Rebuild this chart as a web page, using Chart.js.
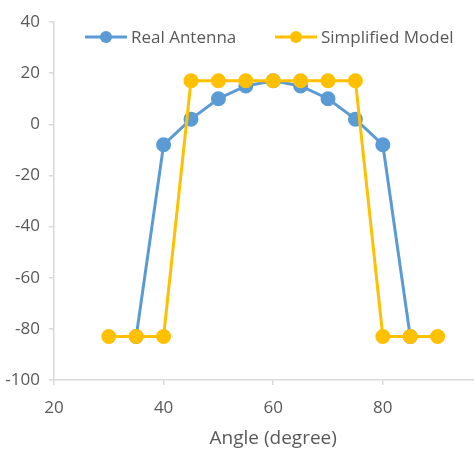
<!DOCTYPE html>
<html>
<head>
<meta charset="utf-8">
<script src="https://cdn.jsdelivr.net/npm/chart.js@4"></script>
<style>
  html, body { margin: 0; padding: 0; background: #fff; overflow: hidden; }
  #wrap { width: 520px; height: 474px; }
</style>
</head>
<body>
<div id="wrap"><canvas id="chart"></canvas></div>
<script>
// Data
const realAngles = [35, 40, 45, 50, 55, 60, 65, 70, 75, 80, 85];
const realValues = [-83, -8, 2, 10, 15, 17, 15, 10, 2, -8, -83];
const modelAngles = [30, 35, 40, 45, 50, 55, 60, 65, 70, 75, 80, 85, 90];
const modelValues = [-83, -83, -83, 17, 17, 17, 17, 17, 17, 17, -83, -83, -83];
const seriesNames = ['Real Antenna', 'Simplified Model'];
const xTitle = 'Angle (degree)';

const BLUE = '#5B9BD5';
const GOLD = '#FFC000';
const AXIS = '#d9d9d9';
const TEXT = '#595959';
const FONT = "'Open Sans', 'Liberation Sans', sans-serif";

const toPoints = (xs, ys) => xs.map((x, i) => ({ x, y: ys[i] }));

// Excel-style legend drawn inside the plot area
const insideLegend = {
  id: 'insideLegend',
  afterDraw(chart) {
    const ctx = chart.ctx;
    const spots = [85, 275];
    const y = 37;
    ctx.save();
    chart.data.datasets.forEach((ds, i) => {
      const x = spots[i];
      ctx.strokeStyle = ds.borderColor;
      ctx.lineWidth = 3;
      ctx.beginPath();
      ctx.moveTo(x, y);
      ctx.lineTo(x + 42, y);
      ctx.stroke();
      ctx.fillStyle = ds.borderColor;
      ctx.beginPath();
      ctx.arc(x + 21, y, 6, 0, Math.PI * 2);
      ctx.fill();
      ctx.fillStyle = TEXT;
      ctx.font = '17px ' + FONT;
      ctx.textBaseline = 'middle';
      ctx.fillText(ds.label, x + 46, y + 1);
    });
    ctx.restore();
  }
};

new Chart(document.getElementById('chart'), {
  type: 'scatter',
  data: {
    datasets: [
      {
        label: seriesNames[0],
        data: toPoints(realAngles, realValues),
        showLine: true,
        borderColor: BLUE,
        backgroundColor: BLUE,
        borderWidth: 3,
        pointRadius: 6,
        pointHoverRadius: 6,
        order: 2
      },
      {
        label: seriesNames[1],
        data: toPoints(modelAngles, modelValues),
        showLine: true,
        borderColor: GOLD,
        backgroundColor: GOLD,
        borderWidth: 3,
        pointRadius: 6,
        pointHoverRadius: 6,
        order: 1
      }
    ]
  },
  options: {
    responsive: true,
    maintainAspectRatio: false,
    animation: false,
    layout: { padding: { top: 22, right: 20, left: 0, bottom: 20 } },
    plugins: {
      legend: { display: false },
      tooltip: { enabled: false }
    },
    scales: {
      x: {
        type: 'linear',
        min: 20,
        max: 100,
        afterFit: s => { s.height = 74; },
        ticks: { stepSize: 20, color: TEXT, font: { size: 17, family: FONT }, padding: 13, maxRotation: 0 },
        grid: { display: true, drawOnChartArea: false, drawTicks: true, tickLength: 5, color: AXIS, lineWidth: 1.5 },
        border: { color: AXIS, width: 1.5 },
        title: { display: true, text: xTitle, color: TEXT, font: { size: 19, family: FONT }, padding: { top: 8 } }
      },
      y: {
        min: -100,
        max: 40,
        afterFit: s => { s.width = 54; },
        ticks: { stepSize: 20, color: TEXT, font: { size: 17, family: FONT }, padding: 9 },
        grid: { display: true, drawOnChartArea: false, drawTicks: true, tickLength: 5, color: AXIS, lineWidth: 1.5 },
        border: { color: AXIS, width: 1.5 }
      }
    }
  },
  plugins: [insideLegend]
});
</script>
</body>
</html>
